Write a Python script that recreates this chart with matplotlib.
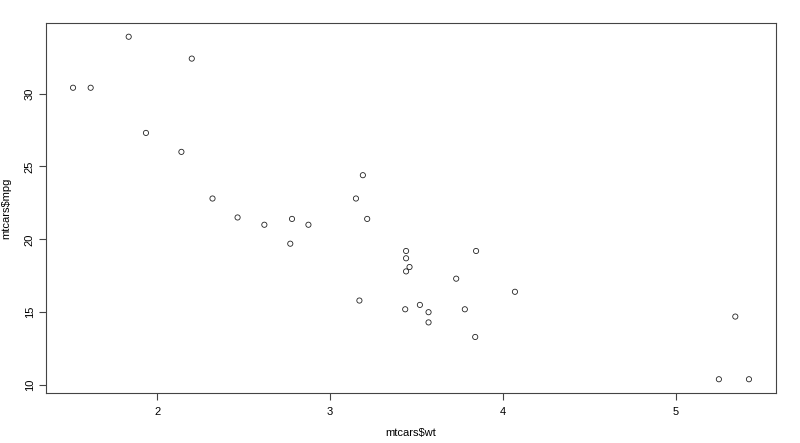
import matplotlib
matplotlib.use('Agg')
import matplotlib.pyplot as plt

# mtcars: weight (1000 lbs) and miles per gallon
wt = [2.620, 2.875, 2.320, 3.215, 3.440, 3.460, 3.570, 3.190, 3.150, 3.440,
      3.440, 4.070, 3.730, 3.780, 5.250, 5.424, 5.345, 2.200, 1.615, 1.835,
      2.465, 3.520, 3.435, 3.840, 3.845, 1.935, 2.140, 1.513, 3.170, 2.770,
      3.570, 2.780]
mpg = [21.0, 21.0, 22.8, 21.4, 18.7, 18.1, 14.3, 24.4, 22.8, 19.2,
       17.8, 16.4, 17.3, 15.2, 10.4, 10.4, 14.7, 32.4, 30.4, 33.9,
       21.5, 15.5, 15.2, 13.3, 19.2, 27.3, 26.0, 30.4, 15.8, 19.7,
       15.0, 21.4]
x_ticks = [2, 3, 4, 5]
y_ticks = [10, 15, 20, 25, 30]

plt.rcParams['font.family'] = ['Liberation Sans', 'DejaVu Sans']

fig = plt.figure(figsize=(8, 4.43), dpi=100)
ax = fig.add_axes([0.0575, 0.113, 0.9125, 0.835])

ax.scatter(wt, mpg, s=14, facecolors='none', edgecolors='#222222', linewidths=0.6)

# R-style 4% padding
xr = max(wt) - min(wt)
yr = max(mpg) - min(mpg)
ax.set_xlim(min(wt) - 0.04 * xr, max(wt) + 0.04 * xr)
ax.set_ylim(min(mpg) - 0.04 * yr, max(mpg) + 0.04 * yr)

ax.set_xticks(x_ticks)
ax.set_yticks(y_ticks)
ax.set_xticklabels([str(t) for t in x_ticks])
ax.set_yticklabels([str(t) for t in y_ticks], rotation=90, va='center')
ax.tick_params(length=5, width=0.8, color='#444444', labelsize=8, pad=5)
ax.tick_params(axis='y', pad=3)

for sp in ax.spines.values():
    sp.set_linewidth(0.8)
    sp.set_color('#444444')

ax.set_xlabel('mtcars$wt', fontsize=8)
ax.set_ylabel('mtcars$mpg', fontsize=8)
ax.xaxis.set_label_coords(0.5, -0.095)
ax.yaxis.set_label_coords(-0.047, 0.5)

fig.savefig('out.png', dpi=100)
